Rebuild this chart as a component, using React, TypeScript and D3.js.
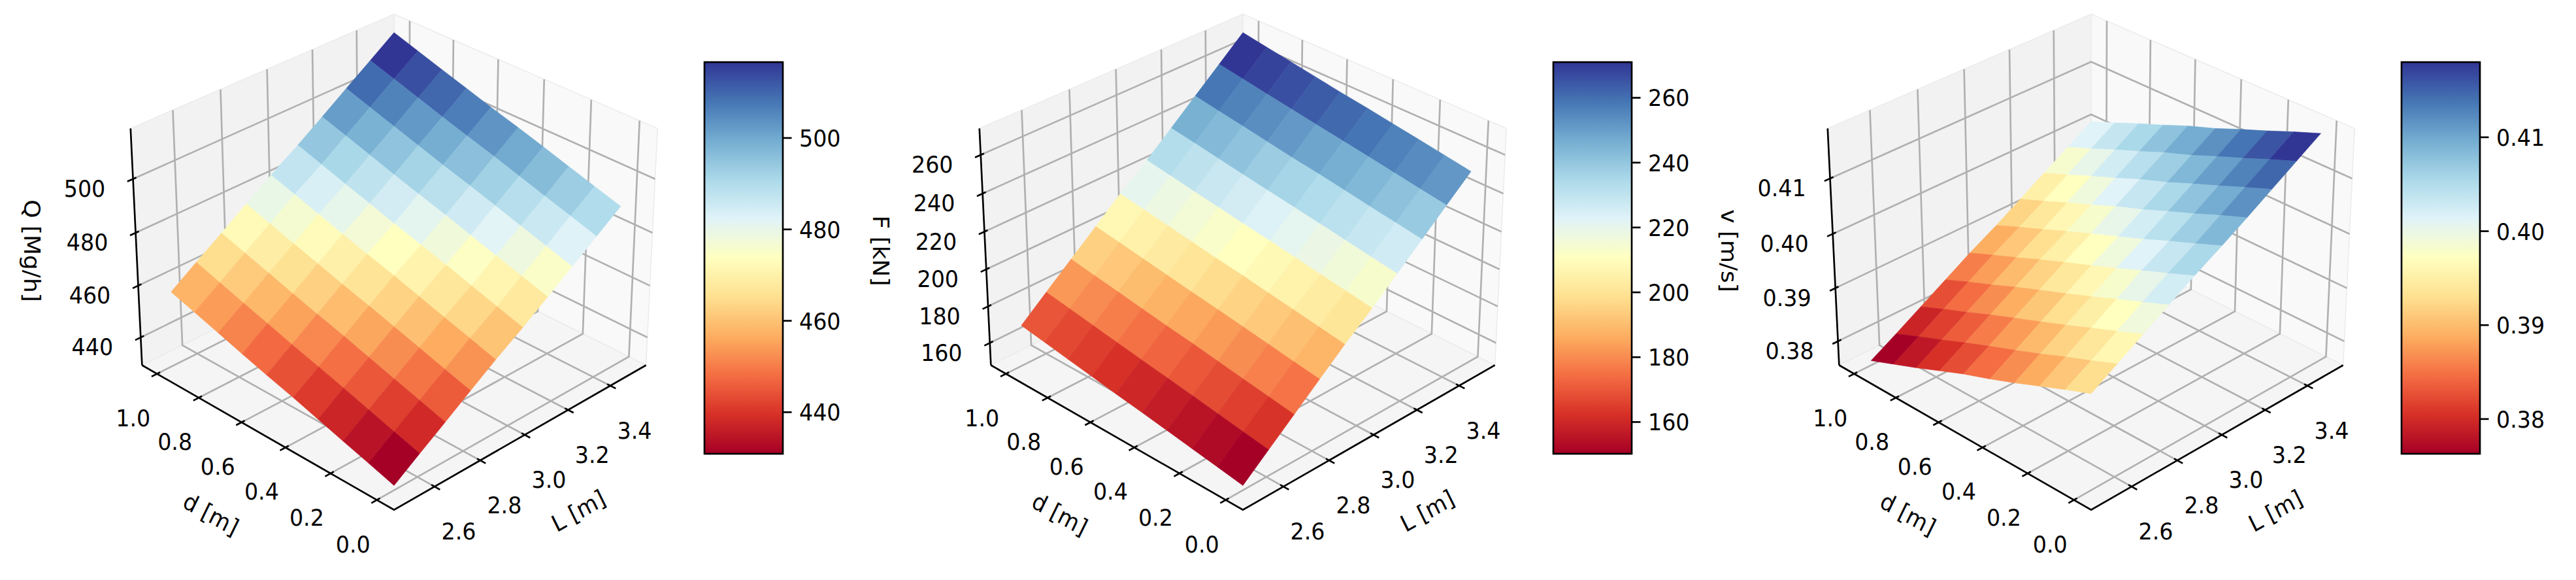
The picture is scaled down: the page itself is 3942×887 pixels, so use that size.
import * as d3 from "d3";

const width = 3942;
const height = 887;

// shared axes of all three panels
const lengths = [2.5, 2.61, 2.72, 2.83, 2.94, 3.06, 3.17, 3.28, 3.39, 3.5];
const depths = [0, 0.11, 0.22, 0.33, 0.44, 0.56, 0.67, 0.78, 0.89, 1];
const lengthTicks = [2.6, 2.8, 3.0, 3.2, 3.4];
const depthTicks = [0, 0.2, 0.4, 0.6, 0.8, 1];

// rows follow depths, columns follow lengths
const flowValues = [
  [430.9, 437.5, 444.0, 450.6, 457.1, 463.7, 470.2, 476.8, 483.3, 489.9],
  [433.9, 440.4, 447.0, 453.5, 460.1, 466.6, 473.2, 479.7, 486.3, 492.8],
  [436.8, 443.4, 449.9, 456.5, 463.0, 469.6, 476.1, 482.7, 489.2, 495.8],
  [439.8, 446.4, 452.9, 459.5, 466.0, 472.6, 479.1, 485.7, 492.2, 498.8],
  [442.8, 449.3, 455.9, 462.4, 469.0, 475.5, 482.1, 488.6, 495.2, 501.7],
  [445.8, 452.3, 458.9, 465.4, 472.0, 478.5, 485.1, 491.6, 498.2, 504.7],
  [448.7, 455.3, 461.8, 468.4, 474.9, 481.5, 488.0, 494.6, 501.1, 507.7],
  [451.7, 458.2, 464.8, 471.3, 477.9, 484.4, 491.0, 497.5, 504.1, 510.6],
  [454.7, 461.2, 467.8, 474.3, 480.9, 487.4, 494.0, 500.5, 507.1, 513.6],
  [457.6, 464.2, 470.7, 477.3, 483.8, 490.4, 496.9, 503.5, 510.0, 516.6],
];
const forceValues = [
  [150.2, 161.5, 172.7, 184.0, 195.2, 206.5, 217.8, 229.0, 240.3, 251.5],
  [152.4, 163.6, 174.9, 186.1, 197.4, 208.7, 219.9, 231.2, 242.4, 253.7],
  [154.5, 165.8, 177.0, 188.3, 199.6, 210.8, 222.1, 233.3, 244.6, 255.9],
  [156.7, 168.0, 179.2, 190.5, 201.7, 213.0, 224.3, 235.5, 246.8, 258.0],
  [158.8, 170.1, 181.4, 192.6, 203.9, 215.2, 226.4, 237.7, 248.9, 260.2],
  [161.0, 172.3, 183.5, 194.8, 206.0, 217.3, 228.6, 239.8, 251.1, 262.3],
  [163.2, 174.4, 185.7, 197.0, 208.2, 219.5, 230.7, 242.0, 253.3, 264.5],
  [165.3, 176.6, 187.9, 199.1, 210.4, 221.6, 232.9, 244.2, 255.4, 266.7],
  [167.5, 178.8, 190.0, 201.3, 212.5, 223.8, 235.1, 246.3, 257.6, 268.8],
  [169.6, 180.9, 192.2, 203.4, 214.7, 226.0, 237.2, 248.5, 259.7, 271.0],
];
const speedValues = [
  [0.3929, 0.3957, 0.3985, 0.4013, 0.4041, 0.4069, 0.4096, 0.4124, 0.4152, 0.418],
  [0.3911, 0.3938, 0.3966, 0.3994, 0.4022, 0.405, 0.4078, 0.4106, 0.4134, 0.4162],
  [0.3892, 0.392, 0.3948, 0.3976, 0.4004, 0.4032, 0.4059, 0.4087, 0.4115, 0.4143],
  [0.3873, 0.3901, 0.3929, 0.3957, 0.3985, 0.4013, 0.4041, 0.4069, 0.4097, 0.4125],
  [0.3855, 0.3883, 0.3911, 0.3939, 0.3967, 0.3995, 0.4022, 0.405, 0.4078, 0.4106],
  [0.3837, 0.3864, 0.3892, 0.392, 0.3948, 0.3976, 0.4004, 0.4032, 0.406, 0.4088],
  [0.3818, 0.3846, 0.3874, 0.3902, 0.393, 0.3958, 0.3985, 0.4013, 0.4041, 0.4069],
  [0.3799, 0.3827, 0.3855, 0.3883, 0.3911, 0.3939, 0.3967, 0.3995, 0.4023, 0.4051],
  [0.3781, 0.3809, 0.3837, 0.3865, 0.3893, 0.3921, 0.3948, 0.3976, 0.4004, 0.4032],
  [0.3763, 0.379, 0.3818, 0.3846, 0.3874, 0.3902, 0.393, 0.3958, 0.3986, 0.4014],
];

const flowTicks = [440, 460, 480, 500];
const forceTicks = [160, 180, 200, 220, 240, 260];
const speedTicks = [0.38, 0.39, 0.4, 0.41];

// same as matplotlib's RdYlBu, low values red
const palette = [...d3.schemeRdYlBu[11]];
const font = "'DejaVu Sans', sans-serif";
const fontSize = 33.3;
const lineW = 2.67;
// the reference is a little taller than wide, the glyphs show it
const textStretch = "scale(1,1.08)";

// mplot3d default camera: elev 30, azim -135, dist 10
const elev = (30 * Math.PI) / 180;
const boxA = 0.595;
const boxB = 0.446;
const dist = 10;
const focal = 4685;
const centerY = 381.5;
const rt2 = Math.SQRT2;

const project = (X: number, Y: number, Z: number, cx: number): [number, number] => {
  const s = Math.sin(elev);
  const c = Math.cos(elev);
  const right = (X - Y) / rt2;
  const up = ((X + Y) / rt2) * s + Z * c;
  const depth = (-(X + Y) / rt2) * c + Z * s;
  const k = focal / (dist - depth);
  return [cx + right * k, centerY - up * k];
};

const Panel = ({ cx, values, zTicks, zFormat, zLabel }: any) => {
  const id = zLabel[0];
  const flat = values.flat();
  const [zMin, zMax] = d3.extent(flat) as [number, number];
  const pad = (zMax - zMin) / 48;

  const xScale = d3.scaleLinear().domain([2.427, 3.573]).range([-boxA, boxA]);
  const yScale = d3.scaleLinear().domain([-0.073, 1.073]).range([-boxA, boxA]);
  const zScale = d3.scaleLinear().domain([zMin - pad, zMax + pad]).range([-boxB, boxB]);

  const line = d3.line();
  const P = (X: number, Y: number, Z: number) => project(X, Y, Z, cx);
  const a = boxA;
  const b = boxB;

  const panes = [
    { fill: "#f2f2f2", pts: [P(-a, a, -b), P(a, a, -b), P(a, a, b), P(-a, a, b)] },
    { fill: "#f9f9f9", pts: [P(a, a, -b), P(a, -a, -b), P(a, -a, b), P(a, a, b)] },
    { fill: "#f5f5f5", pts: [P(-a, -a, -b), P(a, -a, -b), P(a, a, -b), P(-a, a, -b)] },
  ];

  const grids = [
    ...lengthTicks.map((v) => {
      const x = xScale(v);
      return [P(x, -a, -b), P(x, a, -b), P(x, a, b)];
    }),
    ...depthTicks.map((v) => {
      const y = yScale(v);
      return [P(-a, y, -b), P(a, y, -b), P(a, y, b)];
    }),
    ...zTicks.map((v: number) => {
      const z = zScale(v);
      return [P(-a, a, z), P(a, a, z), P(a, -a, z)];
    }),
  ];

  // one quad per grid cell, coloured by its mean, far cells first
  const cells: any[] = [];
  for (let i = 0; i < depths.length - 1; i++) {
    for (let j = 0; j < lengths.length - 1; j++) {
      const corners = [
        [j, i],
        [j + 1, i],
        [j + 1, i + 1],
        [j, i + 1],
      ].map(([c, r]) => [xScale(lengths[c]), yScale(depths[r]), zScale(values[r][c]), values[r][c]]);
      const mean = d3.mean(corners, (p) => p[3]) as number;
      const meanX = d3.mean(corners, (p) => p[0]) as number;
      const meanY = d3.mean(corners, (p) => p[1]) as number;
      const meanZ = d3.mean(corners, (p) => p[2]) as number;
      const depth = (-(meanX + meanY) / rt2) * Math.cos(elev) + meanZ * Math.sin(elev);
      cells.push({ mean, depth, pts: corners.map((p) => P(p[0], p[1], p[2])) });
    }
  }
  cells.sort((p, q) => p.depth - q.depth);

  const meanExtent = d3.extent(cells, (c) => c.mean) as [number, number];
  const colorPos = palette.map((_, i) => meanExtent[0] + ((meanExtent[1] - meanExtent[0]) * i) / (palette.length - 1));
  const color = d3.scaleLinear<string>().domain(colorPos).range(palette).interpolate(d3.interpolateRgb);

  // colorbar
  const barX = cx + 475;
  const barW = 120;
  const barTop = 95;
  const barBottom = 694;
  const barScale = d3.scaleLinear().domain([zMin, zMax]).range([barBottom, barTop]);

  const tickOut = 0.024;
  const tickIn = 0.014;
  const tickProps = { stroke: "#000", strokeWidth: lineW, fill: "none" };
  const textProps = { fontFamily: font, fontSize, fill: "#000", textAnchor: "middle" as const };
  const axisAngle = 28;

  return (
    <g>
      <defs>
        <linearGradient id={`bar-${id}`} x1="0" y1="1" x2="0" y2="0">
          {palette.map((col, i) => (
            <stop key={i} offset={i / (palette.length - 1)} stopColor={col} />
          ))}
        </linearGradient>
      </defs>

      {panes.map((p, i) => (
        <path key={i} d={line(p.pts) + "Z"} fill={p.fill} stroke="#ebebeb" strokeWidth={1.5} />
      ))}
      {grids.map((g, i) => (
        <path key={i} d={line(g as any) as string} fill="none" stroke="#b0b0b0" strokeWidth={lineW} />
      ))}

      <path d={line([P(-a, a, -b), P(-a, -a, -b), P(a, -a, -b)]) as string} {...tickProps} />
      <path d={line([P(-a, a, -b), P(-a, a, b)]) as string} {...tickProps} />

      {lengthTicks.map((v) => {
        const x = xScale(v);
        const [tx, ty] = P(x, -a, -b);
        return (
          <g key={v}>
            <path d={line([P(x, -a + tickIn, -b), P(x, -a - tickOut, -b)]) as string} {...tickProps} />
            <text transform={`translate(${tx + 37},${ty + 68}) ${textStretch}`} dy="0.36em" {...textProps}>
              {d3.format(".1f")(v)}
            </text>
          </g>
        );
      })}
      {depthTicks.map((v) => {
        const y = yScale(v);
        const [tx, ty] = P(-a, y, -b);
        return (
          <g key={v}>
            <path d={line([P(-a + tickIn, y, -b), P(-a - tickOut, y, -b)]) as string} {...tickProps} />
            <text transform={`translate(${tx - 36.5},${ty + 67}) ${textStretch}`} dy="0.36em" {...textProps}>
              {d3.format(".1f")(v)}
            </text>
          </g>
        );
      })}
      {zTicks.map((v: number) => {
        const z = zScale(v);
        const [tx, ty] = P(-a, a, z);
        return (
          <g key={v}>
            <path d={line([P(-a + tickIn, a, z), P(-a - tickOut, a, z)]) as string} {...tickProps} />
            <text transform={`translate(${tx - 74},${ty + 14.2}) ${textStretch}`} dy="0.36em" {...textProps}>
              {d3.format(zFormat)(v)}
            </text>
          </g>
        );
      })}

      {cells.map((c, i) => {
        const col = color(c.mean);
        return <path key={i} d={line(c.pts) + "Z"} fill={col} stroke={col} strokeWidth={0.6} />;
      })}

      <text transform={`translate(${cx + 282},781) ${textStretch} rotate(${-axisAngle})`} dy="0.36em" {...textProps}>
        L [m]
      </text>
      <text transform={`translate(${cx - 280},786) ${textStretch} rotate(${axisAngle})`} dy="0.36em" {...textProps}>
        d [m]
      </text>
      <text transform={`translate(${cx - 554},383.5) ${textStretch} rotate(90)`} dy="0.36em" {...textProps}>
        {zLabel}
      </text>

      <rect x={barX} y={barTop} width={barW} height={barBottom - barTop} fill={`url(#bar-${id})`} />
      <rect x={barX} y={barTop} width={barW} height={barBottom - barTop} fill="none" stroke="#000" strokeWidth={lineW} />
      {zTicks.map((v: number) => (
        <g key={v} transform={`translate(${barX + barW},${barScale(v)})`}>
          <line x2={13.5} stroke="#000" strokeWidth={lineW} />
          <text x={25} dy="0.36em" fontFamily={font} fontSize={fontSize} fill="#000" transform={textStretch}>
            {d3.format(zFormat)(v)}
          </text>
        </g>
      ))}
    </g>
  );
};

export default function App() {
  return (
    <svg width={width} height={height} style={{ position: "absolute", left: 0, top: 0, background: "#fff" }}>
      <Panel cx={603} values={flowValues} zTicks={flowTicks} zFormat="d" zLabel="Q [Mg/h]" />
      <Panel cx={1902} values={forceValues} zTicks={forceTicks} zFormat="d" zLabel="F [kN]" />
      <Panel cx={3200} values={speedValues} zTicks={speedTicks} zFormat=".2f" zLabel="v [m/s]" />
    </svg>
  );
}
